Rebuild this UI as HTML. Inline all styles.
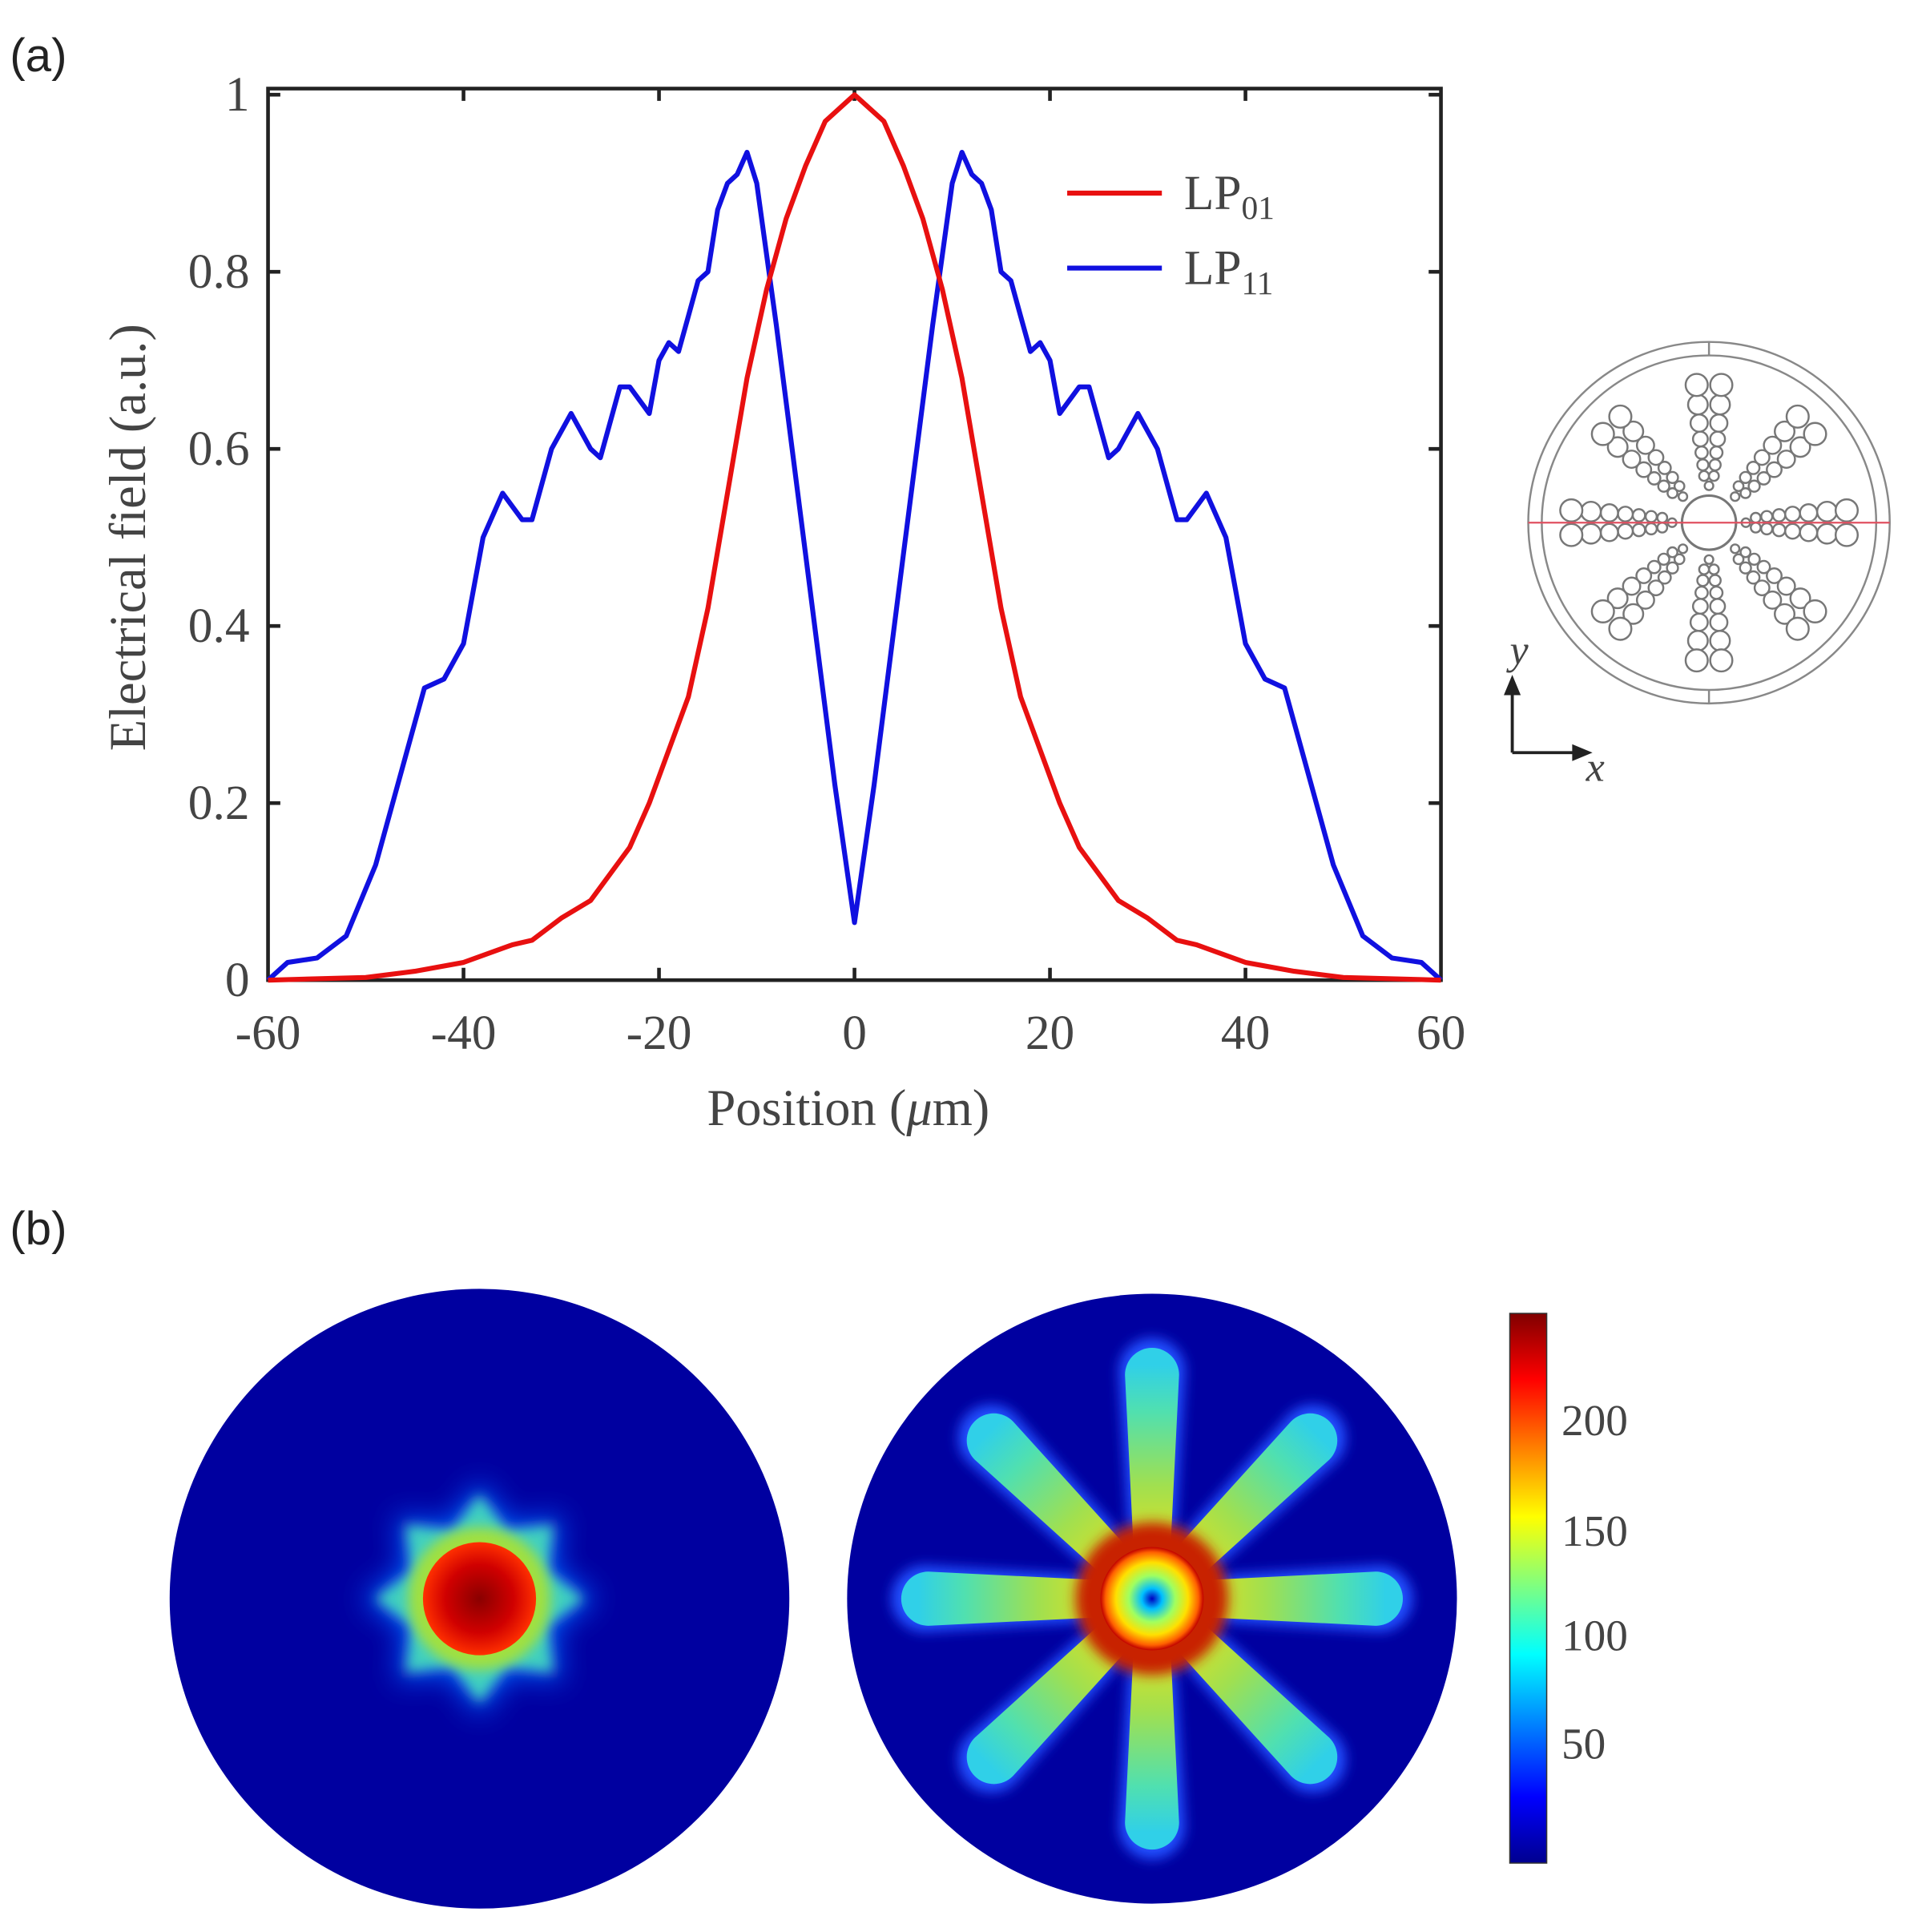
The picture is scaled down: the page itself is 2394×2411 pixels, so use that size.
<!DOCTYPE html>
<html><head><meta charset="utf-8"><style>
html,body{margin:0;padding:0;background:#fff;}
svg{display:block;}
text{font-family:"Liberation Serif",serif;fill:#444;}
</style></head><body>
<svg width="2394" height="2411" viewBox="0 0 1560 1571" xmlns="http://www.w3.org/2000/svg">
<defs>
  <g id="iarm" fill="#fff" stroke="#777" stroke-width="1.6">
    <circle cx="30" cy="0" r="3.5"/>
    <circle cx="38" cy="-4" r="4"/><circle cx="38" cy="4" r="4"/>
    <circle cx="47" cy="-5" r="4.5"/><circle cx="47" cy="5" r="4.5"/>
    <circle cx="57" cy="-6" r="5"/><circle cx="57" cy="6" r="5"/>
    <circle cx="68" cy="-7" r="6"/><circle cx="68" cy="7" r="6"/>
    <circle cx="81" cy="-8" r="7"/><circle cx="81" cy="8" r="7"/>
    <circle cx="96" cy="-9" r="8"/><circle cx="96" cy="9" r="8"/>
    <circle cx="112" cy="-10" r="9"/><circle cx="112" cy="10" r="9"/>
  </g>
  <linearGradient id="armg" gradientUnits="userSpaceOnUse" x1="40" y1="0" x2="190" y2="0">
    <stop offset="0" stop-color="#e0e020"/>
    <stop offset="0.35" stop-color="#a0e050"/>
    <stop offset="0.75" stop-color="#50e0b0"/>
    <stop offset="1" stop-color="#30d0e8"/>
  </linearGradient>
  <filter id="bl" x="-20%" y="-20%" width="140%" height="140%"><feGaussianBlur stdDeviation="5"/></filter>
  <filter id="bl2" x="-50%" y="-50%" width="200%" height="200%"><feGaussianBlur stdDeviation="12"/></filter>
  <g id="harm">
    <path d="M40,-18 L185,-27 A27,27 0 0 1 185,27 L40,18 Z" fill="#2050ff" filter="url(#bl)"/>
    <path d="M40,-15 L182,-22 A22,22 0 0 1 182,22 L40,15 Z" fill="url(#armg)"/>
  </g>
  <linearGradient id="jet" x1="0" y1="0" x2="0" y2="1">
    <stop offset="0" stop-color="#800000"/>
    <stop offset="0.12" stop-color="#ff0000"/>
    <stop offset="0.37" stop-color="#ffff00"/>
    <stop offset="0.62" stop-color="#00ffff"/>
    <stop offset="0.88" stop-color="#0000ff"/>
    <stop offset="1" stop-color="#00008f"/>
  </linearGradient>
  <radialGradient id="core1">
    <stop offset="0" stop-color="#8a0000"/>
    <stop offset="0.6" stop-color="#d00000"/>
    <stop offset="1" stop-color="#ff3000"/>
  </radialGradient>
  <radialGradient id="core2">
    <stop offset="0" stop-color="#0000c0"/>
    <stop offset="0.2" stop-color="#00c0ff"/>
    <stop offset="0.45" stop-color="#a0ff60"/>
    <stop offset="0.7" stop-color="#ffe000"/>
    <stop offset="0.9" stop-color="#ff6000"/>
    <stop offset="1" stop-color="#c00000"/>
  </radialGradient>
</defs>

<text x="8" y="58" style="font-family:'Liberation Sans',sans-serif;fill:#222" font-size="38">(a)</text>
<text x="8" y="1012" style="font-family:'Liberation Sans',sans-serif;fill:#222" font-size="38">(b)</text>

<!-- plot frame -->
<rect x="218" y="72" width="954" height="725" fill="none" stroke="#222" stroke-width="3"/>
<g stroke="#222" stroke-width="3">
  <path d="M377,797v-10M536,797v-10M695,797v-10M854,797v-10M1013,797v-10M377,72v10M536,72v10M695,72v10M854,72v10M1013,72v10"/>
  <path d="M218,653h10M218,509h10M218,365h10M218,221h10M218,77h10M1172,653h-10M1172,509h-10M1172,365h-10M1172,221h-10M1172,77h-10"/>
</g>
<g font-size="40" text-anchor="middle">
  <text x="218" y="853">-60</text><text x="377" y="853">-40</text><text x="536" y="853">-20</text>
  <text x="695" y="853">0</text><text x="854" y="853">20</text><text x="1013" y="853">40</text><text x="1172" y="853">60</text>
</g>
<g font-size="40" text-anchor="end">
  <text x="203" y="810">0</text><text x="203" y="666">0.2</text><text x="203" y="522">0.4</text>
  <text x="203" y="378">0.6</text><text x="203" y="234">0.8</text><text x="203" y="90">1</text>
</g>
<text x="690" y="915" font-size="42" text-anchor="middle">Position (<tspan font-style="italic">μ</tspan>m)</text>
<text transform="translate(118,437) rotate(-90)" font-size="42" text-anchor="middle">Electrical field (a.u.)</text>

<polyline fill="none" stroke="#1010e0" stroke-width="4" stroke-linejoin="round" points="218,797 233.9,782.6 257.8,779 281.6,761 305.5,703.4 329.3,617 345.2,559.4 361.1,552.2 377,523.4 392.9,437 408.8,401 424.7,422.6 432.7,422.6 448.6,365 464.5,336.2 480.4,365 488.3,372.2 504.2,314.6 512.2,314.6 528.1,336.2 536,293 544,278.6 551.9,285.8 559.9,257 567.8,228.2 575.8,221 583.7,170.6 591.7,149 599.6,141.8 607.6,123.8 615.5,149 631.4,264.2 655.3,451.4 679.1,638.6 695,750.2 710.9,638.6 734.7,451.4 758.6,264.2 774.5,149 782.4,123.8 790.4,141.8 798.3,149 806.3,170.6 814.2,221 822.2,228.2 830.1,257 838.1,285.8 846,278.6 854,293 861.9,336.2 877.8,314.6 885.8,314.6 901.7,372.2 909.6,365 925.5,336.2 941.4,365 957.3,422.6 965.3,422.6 981.2,401 997.1,437 1013,523.4 1028.9,552.2 1044.8,559.4 1060.7,617 1084.5,703.4 1108.4,761 1132.2,779 1156.1,782.6 1172,797"/>
<polyline fill="none" stroke="#e81010" stroke-width="4" stroke-linejoin="round" points="218,797 297.5,794.8 337.3,789.8 377,782.6 416.8,768.2 432.7,764.6 456.5,746.6 480.4,732.2 496.3,710.6 512.2,689 528.1,653 544,609.8 559.9,566.6 575.8,494.6 591.7,401 607.6,307.4 623.5,235.4 639.4,177.8 655.3,134.6 671.2,98.6 695,77 718.9,98.6 734.7,134.6 750.6,177.8 766.5,235.4 782.4,307.4 798.3,401 814.2,494.6 830.1,566.6 846,609.8 861.9,653 877.8,689 893.7,710.6 909.6,732.2 933.5,746.6 957.3,764.6 973.2,768.2 1013,782.6 1052.7,789.8 1092.5,794.8 1172,797"/>

<!-- legend -->
<line x1="868" y1="157" x2="945" y2="157" stroke="#e81010" stroke-width="4"/>
<line x1="868" y1="218" x2="945" y2="218" stroke="#1010e0" stroke-width="4"/>
<text x="963" y="170" font-size="40">LP<tspan font-size="27" dy="8">01</tspan></text>
<text x="963" y="231" font-size="40">LP<tspan font-size="27" dy="8">11</tspan></text>

<!-- inset schematic -->
<g transform="translate(1390,425)">
  <circle r="147" fill="none" stroke="#888" stroke-width="1.6"/>
  <circle r="136" fill="none" stroke="#888" stroke-width="1.6"/>
  <path d="M0,-147v11M0,147v-11" stroke="#888" stroke-width="1.6"/>
  <use href="#iarm"/>
  <use href="#iarm" transform="rotate(45)"/>
  <use href="#iarm" transform="rotate(90)"/>
  <use href="#iarm" transform="rotate(135)"/>
  <use href="#iarm" transform="rotate(180)"/>
  <use href="#iarm" transform="rotate(225)"/>
  <use href="#iarm" transform="rotate(270)"/>
  <use href="#iarm" transform="rotate(315)"/>
  <circle r="22" fill="#fff" stroke="#777" stroke-width="2"/>
  <line x1="-147" y1="0" x2="147" y2="0" stroke="#e05060" stroke-width="1.5"/>
</g>
<g stroke="#222" stroke-width="2.5" fill="#222">
  <line x1="1230" y1="612" x2="1230" y2="562"/>
  <path d="M1230,552 l-5,12 h10z"/>
  <line x1="1230" y1="612" x2="1282" y2="612"/>
  <path d="M1292,612 l-12,-5 v10z"/>
</g>
<text x="1228" y="540" font-size="34" font-style="italic" fill="#222">y</text>
<text x="1290" y="635" font-size="34" font-style="italic" fill="#222">x</text>

<!-- (b) left map -->
<circle cx="390" cy="1300" r="252" fill="#0000a0"/>
<g transform="translate(390,1300)">
  <polygon points="0,-95 25,-60 67,-67 60,-25 95,0 60,25 67,67 25,60 0,95 -25,60 -67,67 -60,25 -95,0 -60,-25 -67,-67 -25,-60" fill="#1060ff" filter="url(#bl2)"/>
  <polygon points="0,-85 22,-55 60,-60 55,-22 85,0 55,22 60,60 22,55 0,85 -22,55 -60,60 -55,22 -85,0 -55,-22 -60,-60 -22,-55" fill="#40d0c0" filter="url(#bl)"/>
  <circle r="58" fill="#a0e040" filter="url(#bl)"/>
  <circle r="46" fill="url(#core1)"/>
</g>

<!-- (b) right map -->
<circle cx="937" cy="1300" r="248" fill="#0000a0"/>
<g transform="translate(937,1300)">
  <use href="#harm"/>
  <use href="#harm" transform="rotate(45)"/>
  <use href="#harm" transform="rotate(90)"/>
  <use href="#harm" transform="rotate(135)"/>
  <use href="#harm" transform="rotate(180)"/>
  <use href="#harm" transform="rotate(225)"/>
  <use href="#harm" transform="rotate(270)"/>
  <use href="#harm" transform="rotate(315)"/>
  <circle r="62" fill="#c82000" filter="url(#bl)"/>
  <circle r="42" fill="url(#core2)"/>
</g>

<!-- colorbar -->
<rect x="1228" y="1068" width="30" height="447" fill="url(#jet)" stroke="#333" stroke-width="1"/>
<g font-size="36">
  <text x="1270" y="1167">200</text>
  <text x="1270" y="1257">150</text>
  <text x="1270" y="1342">100</text>
  <text x="1270" y="1430">50</text>
</g>
</svg>
</body></html>
